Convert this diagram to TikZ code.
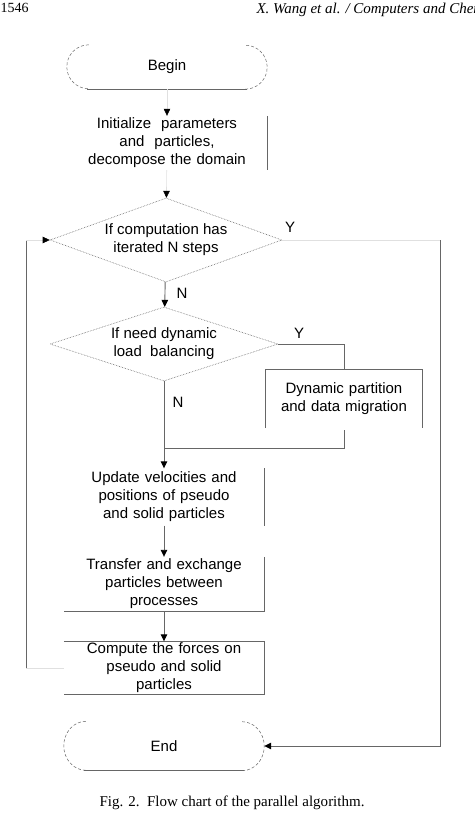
\documentclass[tikz,border=0pt]{standalone}
\usepackage{fontspec}
\setmainfont{Liberation Sans}
\newfontfamily\capfont{Liberation Serif}
\usetikzlibrary{shapes.geometric,arrows.meta}

\newcommand{\lx}{26}
\newcommand{\rx}{440}
\newcommand{\capsule}[1]{%
  \draw[frame, densely dashed, line width=0.5pt] ([xshift=22pt]#1.north west) arc[start angle=90, end angle=270, x radius=22pt, y radius=0.5*\pgfkeysvalueof{/pgf/minimum height}];
}

\begin{document}
\begin{tikzpicture}[x=1pt, y=-1pt,
  font=\fontsize{15}{18}\selectfont,
  terminal/.style={minimum width=200pt, minimum height=46pt, inner sep=0pt},
  process/.style={minimum width=200pt, text width=196pt, align=center, inner sep=0pt},
  decision/.style={diamond, draw=black!60, densely dotted, line width=0.6pt, inner sep=0pt, align=center},
  link/.style={draw=black!60, line width=0.9pt},
  lost/.style={draw=black!12, line width=0.6pt},
  frame/.style={draw=black!60, line width=0.9pt},
  tip/.style={-{Triangle[length=7pt, width=6.5pt, color=black]}}]
  \useasboundingbox (0,0) rectangle (474,814);

  \node[anchor=base west, font=\capfont\fontsize{14}{16}\selectfont] (page) at (-3,12) {1546};
  \node[anchor=base west, font=\capfont\itshape\fontsize{15}{18}\selectfont] (running) at (253,13) {X. Wang et al. / Computers and Chemical Engineering};

  \node[terminal, minimum height=44pt] (begin) at (167,67) {Begin};
  \node[process, minimum height=54pt] (init) at (167,143) {Initialize\ \ parameters\\and\ \ particles,\\decompose the domain};
  \node[decision, aspect=2.76, minimum width=232pt, minimum height=84pt] (test) at (166,240) {If computation has\\iterated N steps};
  \node[decision, aspect=3.08, minimum width=228pt, minimum height=74pt] (balance) at (164,344) {If need dynamic\\load\ \ balancing};
  \node[process, text width=152pt, minimum width=156pt, minimum height=58pt] (migrate) at (344,399) {Dynamic partition\\and data migration};
  \node[process, minimum height=57pt] (update) at (164,497) {Update velocities and\\positions of pseudo\\and solid particles};
  \node[process, minimum height=54pt] (transfer) at (164,584) {Transfer and exchange\\particles between\\processes};
  \node[process, minimum height=53pt] (forces) at (164,668) {Compute the forces on\\pseudo and solid\\particles};
  \node[terminal, minimum height=49pt] (end) at (164,746) {End};

  \node (yes1) at (290,227) {Y};
  \node (no1) at (182,293) {N};
  \node (yes2) at (299,333) {Y};
  \node (no2) at (178,402) {N};

  \coordinate (join) at (164,448);
  \coordinate (rtop) at (\rx,240);
  \coordinate (rbot) at (\rx,746);
  \coordinate (ltop) at (\lx,240);
  \coordinate (lbot) at (\lx,668);

  % terminals: dashed ends, solid bottom
  \draw[frame, densely dashed, line width=0.5pt] ([xshift=22pt]begin.north west) arc[start angle=90, end angle=270, x radius=22pt, y radius=22pt];
  \draw[frame, densely dashed, line width=0.5pt] ([xshift=-22pt]begin.south east) arc[start angle=-90, end angle=90, x radius=22pt, y radius=22pt];
  \draw[frame] ([xshift=20pt]begin.south west) -- ([xshift=-20pt]begin.south east);
  \draw[frame, densely dashed, line width=0.5pt] ([xshift=22pt]end.north west) arc[start angle=90, end angle=270, x radius=22pt, y radius=24.5pt];
  \draw[frame, densely dashed, line width=0.5pt] ([xshift=-22pt]end.south east) arc[start angle=-90, end angle=90, x radius=22pt, y radius=24.5pt];
  \draw[frame] ([xshift=20pt]end.south west) -- ([xshift=-20pt]end.south east);

  % box edges left by the scan
  \draw[frame] (init.north east) -- (init.south east);
  \draw[frame] (migrate.south west) |- (migrate.north east) -- (migrate.south east);
  \draw[frame] (update.north east) -- (update.south east);
  \draw[frame] (transfer.north east) -- (transfer.south east) -- (transfer.south west);
  \draw[frame] (forces.north west) -- (forces.north east) -- (forces.south east) -- (forces.south west);

  % flow
  \draw[lost, tip] (begin) -- (init);
  \draw[lost, tip] (init) -- (test);
  \draw[link, tip] (test) -- (balance);
  \draw[link] (balance.east) -| (migrate.north);
  \draw[link] ([yshift=-2pt]migrate.south) |- (join);
  \draw[link, tip] (balance.south) -- (update.north);
  \draw[link, tip] (update) -- (transfer);
  \draw[link, tip] (transfer) -- (forces);
  \draw[lost] (test.east) -- (rtop);
  \draw[link, tip] (rtop) -- (rbot) -- (end.east);
  \draw[lost] (forces.west) -- (lbot);
  \draw[link] (lbot) -- (ltop);
  \draw[lost, tip] (ltop) -- (test.west);

  \node[font=\capfont\fontsize{15}{18}\selectfont] (caption) at (232,803) {Fig. 2.\ \ Flow chart of the parallel algorithm.};
\end{tikzpicture}
\end{document}
